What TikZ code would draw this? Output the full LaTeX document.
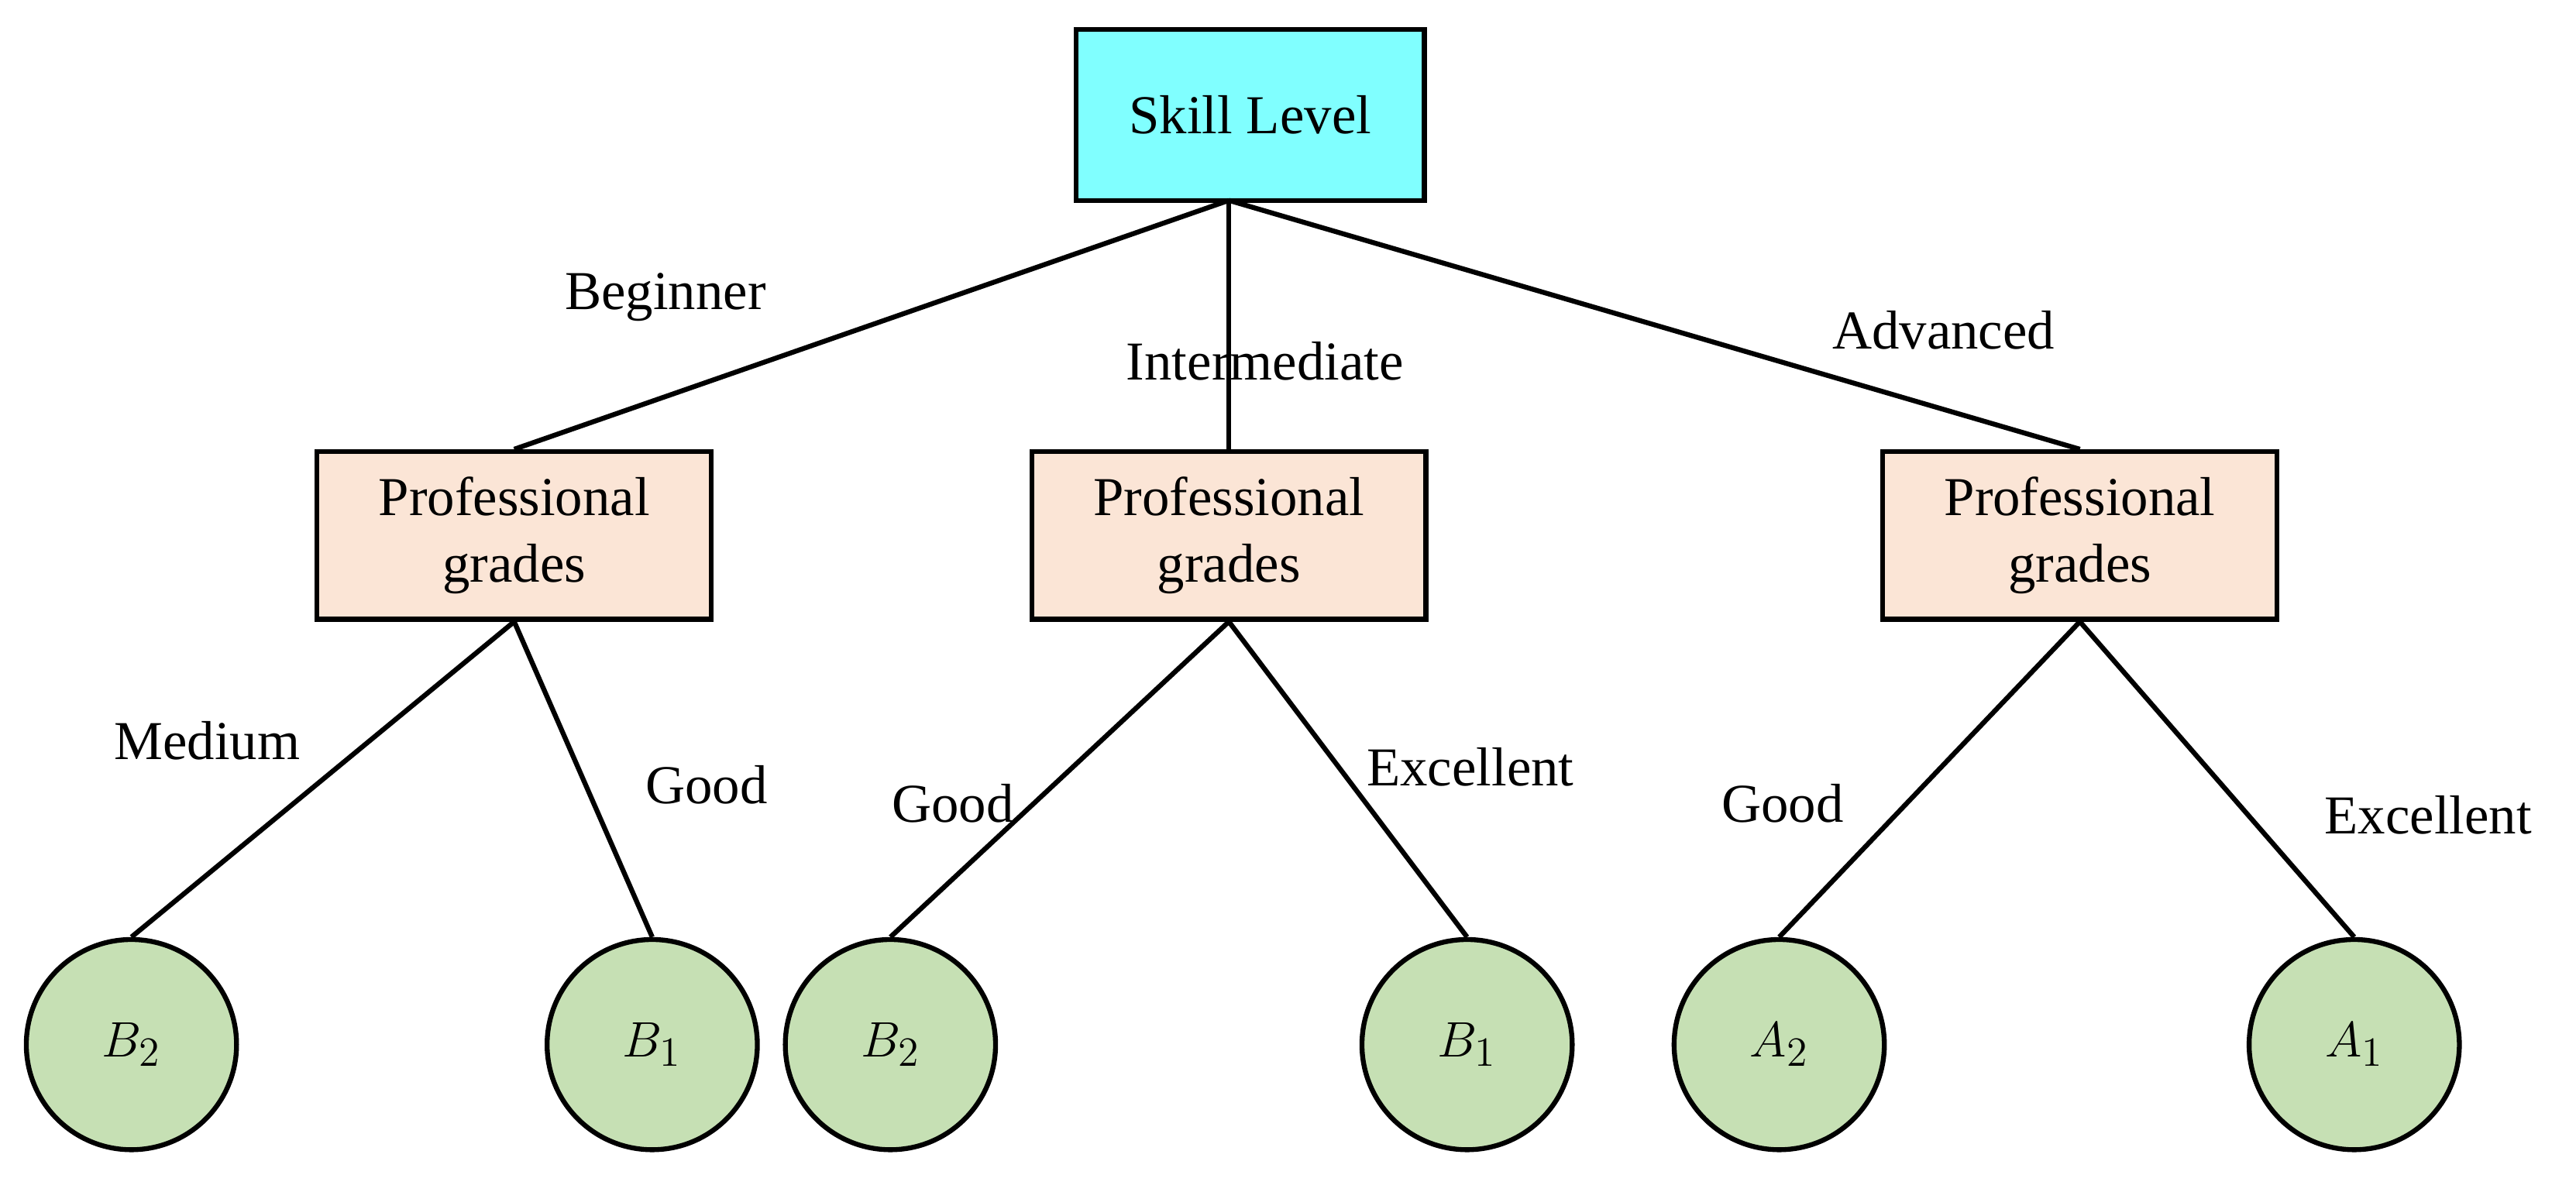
\documentclass[tikz,border=0pt]{standalone}
\usepackage{fontspec}
\setmainfont{Liberation Serif}
\begin{document}
\begin{tikzpicture}[x=0.02cm,y=-0.02cm,
    every node/.style={font=\fontsize{19}{23}\selectfont},
    link/.style={line width=1.7pt},
    grade/.style={draw,line width=1.7pt,fill=orange!20!white,minimum width=4.8cm,minimum height=2.04cm,align=center},
    leaf/.style={draw,circle,line width=1.7pt,fill=green!40!black!25!white,fill=leafgreen,minimum size=2.56cm,inner sep=0pt}]
    \definecolor{leafgreen}{RGB}{198,224,180}
    \definecolor{skillcyan}{RGB}{128,255,255}
    \definecolor{gradepeach}{RGB}{251,229,214}
    \useasboundingbox (0,0) rectangle (1568,730);

    % Root
    \node[draw,line width=1.7pt,fill=skillcyan,minimum width=4.24cm,minimum height=2.08cm] (skill) at (761,70) {Skill Level};

    % Professional grades
    \node[grade,fill=gradepeach] (p1) at (313,326) {Professional\\grades};
    \node[grade,fill=gradepeach] (p2) at (748,326) {Professional\\grades};
    \node[grade,fill=gradepeach] (p3) at (1266,326) {Professional\\grades};

    % Leaves
    \node[leaf] (l1) at (80,636) {$B_2$};
    \node[leaf] (l2) at (397,636) {$B_1$};
    \node[leaf] (l3) at (542,636) {$B_2$};
    \node[leaf] (l4) at (893,636) {$B_1$};
    \node[leaf] (l5) at (1083,636) {$A_2$};
    \node[leaf] (l6) at (1433,636) {$A_1$};

    % Links
    \coordinate (s) at (748,122);
    \draw[link] (s) -- (p1.north);
    \draw[link] (s) -- (p2.north);
    \draw[link] (s) -- (p3.north);
    \draw[link] (p1.south) -- (l1.north);
    \draw[link] (p1.south) -- (l2.north);
    \draw[link] (p2.south) -- (l3.north);
    \draw[link] (p2.south) -- (l4.north);
    \draw[link] (p3.south) -- (l5.north);
    \draw[link] (p3.south) -- (l6.north);

    % Labels
    \node at (405,181) {Beginner};
    \node at (770,220) {Intermediate};
    \node at (1183,201) {Advanced};
    \node at (126,451) {Medium};
    \node at (430,478) {Good};
    \node at (580,489) {Good};
    \node at (895,467) {Excellent};
    \node at (1085,489) {Good};
    \node at (1478,496) {Excellent};
\end{tikzpicture}
\end{document}
